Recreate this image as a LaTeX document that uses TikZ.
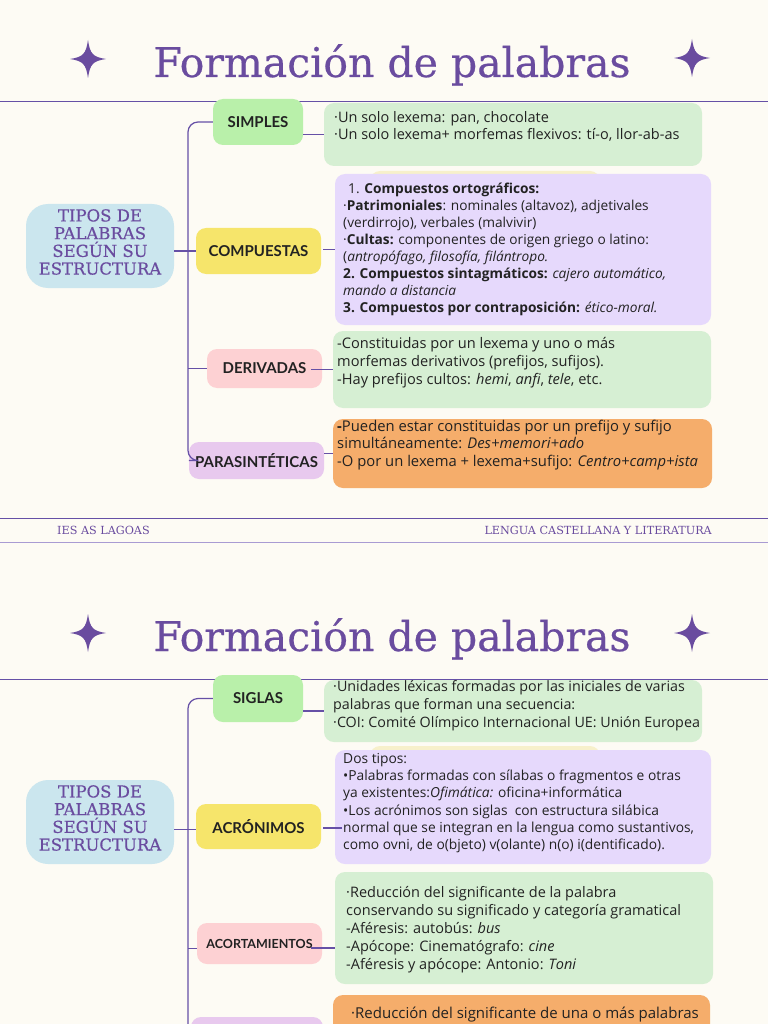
\documentclass[tikz,border=0pt]{standalone}
\usepackage{fontspec}
\setmainfont{Open Sans}
\newfontfamily\lato{Lato}
\newfontfamily\slab[FakeBold=0.5]{DejaVu Serif}
\newfontfamily\slabfoot{DejaVu Serif}
\usetikzlibrary{fit}
\definecolor{bg}{HTML}{FDFBF4}
\definecolor{purpleT}{HTML}{6A4C9F}
\definecolor{lineC}{HTML}{6650A6}
\definecolor{footLight}{HTML}{A99BD3}
\definecolor{centralFill}{HTML}{CBE6EE}
\definecolor{greenNode}{HTML}{B9F0AA}
\definecolor{greenBox}{HTML}{D6EFD3}
\definecolor{yellowNode}{HTML}{F6E56B}
\definecolor{lavBox}{HTML}{E6D9FC}
\definecolor{pinkNode}{HTML}{FDD1D3}
\definecolor{lavNode}{HTML}{E8C9EE}
\definecolor{orangeBox}{HTML}{F5AD6B}
\definecolor{ghost}{HTML}{F7F0CB}
\definecolor{ink}{HTML}{222222}
\begin{document}
\begin{tikzpicture}[x=1pt,y=-1pt,
  titletext/.style={inner sep=0pt, anchor=base, text=purpleT, font=\slab\fontsize{41}{43}\selectfont},
  central/.style={fill=centralFill, rounded corners=22pt, inner sep=0pt, minimum width=148pt, minimum height=84pt},
  centraltext/.style={inner sep=0pt, align=center, text=purpleT, font=\slab\fontsize{16.5}{17.7}\selectfont},
  lbl/.style={rounded corners=10pt, inner sep=0pt, text=ink, font=\lato\bfseries\fontsize{15}{17}\selectfont},
  detbox/.style={rounded corners=10pt, inner sep=0pt},
  body/.style={inner sep=0pt, anchor=base west, align=left, text=ink, font=\fontsize{13.5}{17}\selectfont},
  foot/.style={inner sep=0pt, text=purpleT, font=\slabfoot\fontsize{11.2}{13}\selectfont},
  hline/.style={draw=lineC, line width=1pt},
  conn/.style={draw=lineC, line width=1.2pt},
  sparkle/.pic={\fill[purpleT] (0,-19) .. controls (2,-5) and (5,-2) .. (18,0) .. controls (5,2) and (2,5) .. (0,19) .. controls (-2,5) and (-5,2) .. (-18,0) .. controls (-5,-2) and (-2,-5) .. cycle;}
]
\useasboundingbox (0,0) rectangle (768,1024);
\clip (0,0) rectangle (768,1024);
\fill[bg] (0,0) rectangle (768,1024);

% ================= PAGE 1 =================
\pic at (88,59) {sparkle};
\pic at (692,58) {sparkle};
\node[titletext] (title1) at (392,77) {Formación de palabras};
\draw[hline] (0,102) -- (768,102);

\node[central] (central1) at (100,246) {};
\node[centraltext] (c1text) at (100,242) {TIPOS DE\\PALABRAS\\SEGÚN SU\\ESTRUCTURA};

\fill[ghost, rounded corners=10pt] (370,171) rectangle (600,200);
\node[detbox, fill=greenBox, fit={(324,103) (702,166)}] (box1) {};
\node[detbox, fill=lavBox, fit={(335,174) (711,325)}] (box2) {};
\node[detbox, fill=greenBox, fit={(333,331) (711,408)}] (box3) {};
\node[detbox, fill=orangeBox, fit={(333,419) (712,488)}] (box4) {};

\node[lbl, fill=greenNode, minimum width=90pt, minimum height=46pt] (simples) at (258,122) {SIMPLES};
\node[lbl, fill=yellowNode, minimum width=125pt, minimum height=46pt] (compuestas) at (258.5,251) {COMPUESTAS};
\node[lbl, fill=pinkNode, minimum width=115pt, minimum height=39pt] (derivadas) at (264.5,368.5) {DERIVADAS};
\node[lbl, fill=lavNode, minimum width=135pt, minimum height=37pt] (parasint) at (256.5,460.5) {PARASINTÉTICAS};

\node[body, font=\fontsize{14.5}{17}\selectfont] (t1) at (334,139.5) {·Un solo lexema: pan, chocolate\\·Un solo lexema+ morfemas flexivos: tí-o, llor-ab-as};
\node[body, font=\fontsize{13.7}{17}\selectfont] (t2) at (343,312.5) {\hspace*{5pt}1. \textbf{Compuestos ortográficos:}\\
·\textbf{Patrimoniales}: nominales (altavoz), adjetivales\\
(verdirrojo), verbales (malvivir)\\
·\textbf{Cultas:} componentes de origen griego o latino:\\
(\textit{antropófago, filosofía, filántropo.}\\
\textbf{2. Compuestos sintagmáticos:} \textit{cajero automático,}\\
\textit{mando a distancia}\\
\textbf{3. Compuestos por contraposición:} \textit{ético-moral.}};
\node[body, font=\fontsize{14.6}{18}\selectfont] (t3) at (337,384.5) {-Constituidas por un lexema y uno o más\\
morfemas derivativos (prefijos, sufijos).\\
-Hay prefijos cultos: \textit{hemi}, \textit{anfi}, \textit{tele}, etc.};
\node[body, font=\fontsize{14.8}{17.5}\selectfont] (t4) at (337,466) {\textbf{-}Pueden estar constituidas por un prefijo y sufijo\\
simultáneamente: \textit{Des+memori+ado}\\
-O por un lexema + lexema+sufijo: \textit{Centro+camp+ista}};

\coordinate (trunk1) at (188,0);
\draw[conn, rounded corners=10pt] (simples.west) -- (simples.west -| trunk1) -- (parasint.west -| trunk1) -- (parasint.west);
\draw[conn] (compuestas.west) -- (compuestas.west -| central1.east);
\draw[conn] (derivadas.west) -- (derivadas.west -| trunk1);
\draw[conn] (box1.west) -- (box1.west -| simples.east);
\draw[conn] (box2.west) -- ([xshift=2pt]box2.west -| compuestas.east);
\draw[conn] (box3.west) -- ([xshift=-11pt]box3.west -| derivadas.east);
\draw[conn] (box4.west) -- (box4.west -| parasint.east);

\draw[hline] (0,518) -- (768,518);
\node[foot, anchor=base west] (foot1l) at (57,534) {IES AS LAGOAS};
\node[foot, anchor=base east] (foot1r) at (712,534) {LENGUA CASTELLANA Y LITERATURA};
\draw[draw=footLight, line width=1pt] (0,542) -- (768,542);

% ================= PAGE 2 =================
\pic at (88,633) {sparkle};
\pic at (692,633) {sparkle};
\node[titletext] (title2) at (392,651) {Formación de palabras};
\draw[hline] (0,679) -- (768,679);

\node[central] (central2) at (100,822) {};
\node[centraltext] (c2text) at (100,818) {TIPOS DE\\PALABRAS\\SEGÚN SU\\ESTRUCTURA};

\fill[ghost, rounded corners=10pt] (370,746) rectangle (600,775);
\node[detbox, fill=greenBox, fit={(324,680) (702,742)}] (boxA) {};
\node[detbox, fill=lavBox, fit={(335,750) (711,864)}] (boxB) {};
\node[detbox, fill=greenBox, fit={(335,872) (713,984)}] (boxC) {};
\node[detbox, fill=orangeBox, fit={(333,995) (710,1060)}] (boxD) {};

\node[lbl, fill=greenNode, minimum width=90pt, minimum height=47pt] (siglas) at (258,698.5) {SIGLAS};
\node[lbl, fill=yellowNode, minimum width=125pt, minimum height=45pt] (acronimos) at (258.5,826.5) {ACRÓNIMOS};
\node[lbl, fill=pinkNode, minimum width=125pt, minimum height=41pt, font=\lato\bfseries\fontsize{12.5}{14}\selectfont] (acort) at (259.5,943.5) {ACORTAMIENTOS};
\node[lbl, fill=lavNode, minimum width=132pt, minimum height=38pt] (lastnode) at (257,1036) {};

\node[body, font=\fontsize{14.3}{18}\selectfont] (tA) at (333,727.5) {·Unidades léxicas formadas por las iniciales de varias\\
palabras que forman una secuencia:\\
·COI: Comité Olímpico Internacional UE: Unión Europea};
\node[body, font=\fontsize{13.8}{17.2}\selectfont] (tB) at (343,849.5) {Dos tipos:\\
•Palabras formadas con sílabas o fragmentos e otras\\
ya existentes:\textit{Ofimática:} oficina+informática\\
•Los acrónimos son siglas\ \ con estructura silábica\\
normal que se integran en la lengua como sustantivos,\\
como ovni, de o(bjeto) v(olante) n(o) i(dentificado).};
\node[body, font=\fontsize{14.5}{18}\selectfont] (tC) at (346,969.5) {·Reducción del significante de la palabra\\
conservando su significado y categoría gramatical\\
-Aféresis: autobús: \textit{bus}\\
-Apócope: Cinematógrafo: \textit{cine}\\
-Aféresis y apócope: Antonio: \textit{Toni}};
\node[body, font=\fontsize{15}{18}\selectfont] (tD) at (351,1018.5) {·Reducción del significante de una o más palabras};

\coordinate (trunk2) at (188,0);
\draw[conn, rounded corners=10pt] (siglas.west) -- (siglas.west -| trunk2) -- (lastnode.west -| trunk2);
\draw[conn] ([yshift=-3pt]acronimos.west) -- ([yshift=-3pt]acronimos.west -| central2.east);
\draw[conn] ([yshift=-5pt]acort.west) -- ([yshift=-5pt]acort.west -| trunk2);
\draw[conn] (boxA.west) -- (boxA.west -| siglas.east);
\draw[conn] ([xshift=7pt,yshift=-1.5pt]acronimos.east -| boxB.west) -- ([xshift=2pt,yshift=-1.5pt]acronimos.east);
\draw[conn] ([yshift=-4.5pt]acort.east -| boxC.west) -- ([xshift=-11pt,yshift=-4.5pt]acort.east);
\end{tikzpicture}
\end{document}
